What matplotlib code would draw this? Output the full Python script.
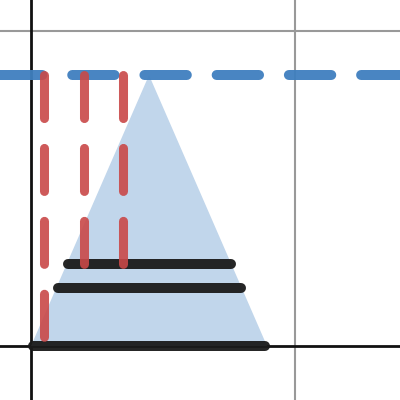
import matplotlib
matplotlib.use('Agg')
import matplotlib.pyplot as plt

# triangle (base on the x axis, apex at the top)
tri_x = [0.0, 0.447, 0.894]
tri_y = [0.0, 0.86, 0.0]

# horizontal slices through the triangle
slice_y = [0.0, 0.184, 0.26]
slice_left = [0.007, 0.102, 0.14]
slice_right = [0.887, 0.795, 0.757]

# red dashed verticals
red_x = [0.049, 0.2, 0.348]
red_bottom = [0.0, 0.26, 0.26]
red_top = 0.86

# blue dashed level
blue_y = 0.86

xlim = (-0.1174, 1.3977)
ylim = (-0.1714, 1.0984)

plt.rcParams['lines.scale_dashes'] = False

fig = plt.figure(figsize=(4, 4), dpi=100)
ax = fig.add_axes([0, 0, 1, 1])
ax.set_xlim(*xlim)
ax.set_ylim(*ylim)
ax.axis('off')

# grid lines at 1 and the axes through 0
ax.axvline(1, color='#999999', lw=1.5, zorder=1)
ax.axhline(1, color='#999999', lw=1.5, zorder=1)
ax.axvline(0, color='#111111', lw=2, zorder=2)
ax.axhline(0, color='#111111', lw=2, zorder=2)

ax.fill(tri_x, tri_y, color='#c1d6eb', lw=0, zorder=3)

for y, x0, x1 in zip(slice_y, slice_left, slice_right):
    ax.plot([x0, x1], [y, y], color='#1a1a1a', lw=7.2, alpha=0.95,
            solid_capstyle='round', zorder=4)

ax.plot([xlim[0], xlim[1]], [blue_y, blue_y], color='#3f7fbf', lw=7.2,
        alpha=0.95, dashes=(30.5, 21.5), dash_capstyle='round', zorder=5)

for x, yb in zip(red_x, red_bottom):
    ax.plot([x, x], [red_top, yb], color='#c94848', lw=6.5, alpha=0.9,
            dashes=(31, 21.5), dash_capstyle='round', zorder=6)

fig.savefig('out.png', dpi=100)
